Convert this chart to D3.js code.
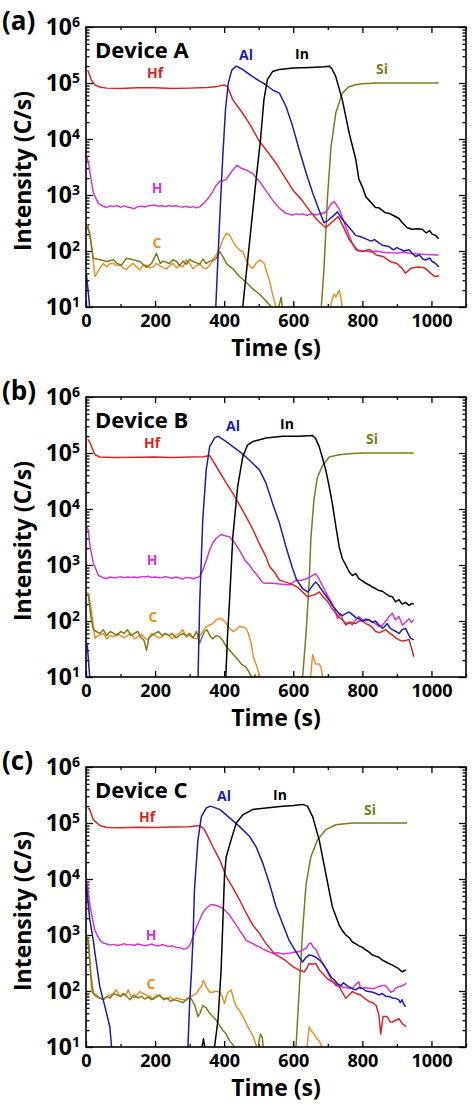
<!DOCTYPE html>
<meta charset="utf-8">

<!-- Load d3.js -->
<script src="https://d3js.org/d3.v7.min.js"></script>

<style>
  body { margin: 0; background: #fff; }
  text { font-family: "Open Sans", "DejaVu Sans", sans-serif; font-weight: bold; }
</style>

<div id="chart"></div>

<script>
  // ---------------- data: [time (s), intensity (C/s)] ----------------
  // values below 10 just run off the bottom of the log axis (clipped)

  // Device A
  const hfA = [[5,1.7e5],[15,1.15e5],[25,9.3e4],[40,8.5e4],[60,8.1e4],[100,8e4],[150,8.2e4],[200,8.2e4],[250,8e4],[300,8.1e4],[350,8.3e4],[380,8.7e4],[400,9.2e4],[410,8.6e4],[425,5e4],[450,3.1e4],[475,1.8e4],[500,9.5e3],[525,6e3],[550,3.7e3],[575,2.1e3],[600,1.2e3],[625,810],[650,500],[670,355],[694,260],[710,320],[730,410],[745,270],[762,160],[785,105],[800,98],[820,107],[840,85],[860,80],[880,65],[900,60],[915,49],[925,40],[940,49],[960,52],[980,50],[1000,39],[1010,35],[1022,36]];
  const alA = [[1,40],[6,20],[12,8],[20,1],[370,1],[375,8],[380,40],[388,500],[396,5000],[404,3.5e4],[412,1e5],[422,1.7e5],[435,2e5],[450,1.8e5],[475,1.4e5],[500,1.1e5],[521,9.3e4],[540,7.5e4],[560,6.6e4],[579,3.8e4],[598,1.7e4],[617,6.5e3],[637,2.5e3],[656,1.1e3],[675,530],[689,320],[700,350],[715,420],[728,500],[740,380],[752,310],[765,250],[781,190],[795,180],[810,165],[825,150],[835,160],[848,140],[860,125],[877,120],[890,105],[900,115],[906,110],[920,100],[935,105],[945,90],[954,80],[965,85],[975,72],[983,69],[995,75],[1002,65],[1012,60],[1021,52]];
  const inA = [[440,1],[452,8],[470,90],[490,1400],[505,9500],[515,5e4],[525,1.15e5],[540,1.6e5],[560,1.75e5],[600,1.85e5],[650,1.9e5],[690,1.95e5],[704,2e5],[712,1.8e5],[723,1.3e5],[742,5e4],[762,1.26e4],[781,4.3e3],[790,1.9e3],[800,1.4e3],[810,930],[819,810],[838,600],[848,590],[867,480],[877,470],[890,430],[906,380],[914,330],[930,260],[944,245],[960,250],[973,245],[985,210],[995,230],[1002,200],[1012,190],[1021,165]];
  const siA = [[3,280],[11,200],[21,74],[40,70],[60,65],[79,70],[90,60],[103,56],[117,74],[137,70],[156,65],[175,51],[190,60],[204,91],[215,60],[223,66],[242,60],[252,70],[262,65],[271,55],[281,66],[290,58],[300,70],[310,65],[319,62],[330,58],[338,72],[348,60],[358,66],[367,68],[377,74],[387,98],[396,80],[406,60],[425,48],[444,35],[463,28],[483,21],[502,17],[520,13],[531,11],[550,8],[558,10],[565,15],[572,6],[580,1],[670,1],[680,8],[689,50],[699,900],[709,7e3],[723,2.9e4],[742,6.6e4],[760,8.5e4],[781,9.3e4],[800,9.7e4],[840,1e5],[900,1e5],[960,1e5],[1021,1e5]];
  const hA = [[2,5000],[8,3500],[12,2400],[21,1100],[36,700],[50,630],[60,600],[70,640],[80,620],[90,650],[100,600],[110,640],[120,610],[130,590],[140,570],[150,620],[160,630],[170,610],[180,640],[190,650],[200,660],[210,630],[220,640],[230,620],[240,650],[250,630],[260,640],[270,620],[280,610],[290,630],[300,600],[310,620],[320,590],[330,620],[340,700],[348,800],[358,950],[367,1150],[377,1500],[387,1750],[396,1800],[406,1900],[415,2300],[425,2800],[437,3400],[450,3000],[463,2800],[483,2400],[502,1750],[521,1200],[540,810],[560,580],[579,470],[598,440],[610,460],[617,450],[627,460],[640,430],[646,450],[655,460],[665,440],[680,470],[689,470],[699,540],[710,700],[719,760],[726,650],[733,560],[742,400],[752,270],[762,190],[771,135],[781,105],[790,100],[810,100],[825,96],[839,100],[860,95],[880,93],[900,92],[920,95],[940,90],[954,89],[980,87],[1000,86],[1021,85]];
  const cA = [[2,300],[7,270],[16,120],[26,35],[40,49],[50,60],[60,52],[70,60],[79,60],[88,55],[98,56],[108,50],[117,46],[127,55],[137,60],[146,52],[156,46],[165,55],[175,56],[185,50],[194,52],[204,60],[213,55],[223,50],[233,48],[243,55],[252,60],[262,50],[271,55],[281,52],[290,70],[300,60],[310,48],[320,55],[330,58],[340,50],[348,48],[358,55],[367,70],[377,85],[387,110],[396,160],[406,205],[415,195],[425,150],[435,120],[444,105],[454,98],[463,70],[473,55],[483,49],[492,60],[502,69],[510,65],[516,60],[524,40],[531,30],[540,17],[550,10],[560,4],[700,4],[710,12],[718,17],[723,15],[733,20],[740,12],[748,6],[760,1]];

  // Device B
  const hfB = [[5,1.75e5],[10,1.6e5],[26,9.3e4],[40,8.5e4],[80,8.3e4],[150,8.4e4],[200,8.5e4],[250,8.3e4],[300,8.5e4],[340,8.6e4],[358,9e4],[377,5.8e4],[406,2.9e4],[425,1.9e4],[444,1.2e4],[463,7.4e3],[483,4.3e3],[502,2.4e3],[521,1.4e3],[531,950],[545,750],[560,540],[575,500],[589,470],[600,440],[615,390],[627,330],[642,270],[656,290],[665,300],[675,330],[689,260],[700,220],[713,165],[733,117],[745,100],[752,85],[765,95],[781,90],[790,100],[800,100],[810,90],[819,85],[830,75],[838,65],[850,62],[868,70],[877,62],[887,56],[897,50],[906,46],[915,44],[925,45],[935,47],[944,30],[949,23]];
  const alB = [[1,40],[4,35],[12,8],[20,1],[320,1],[324,8],[329,200],[338,6500],[348,5e4],[358,1.3e5],[372,1.85e5],[382,2e5],[406,1.6e5],[425,1.3e5],[444,1.07e5],[463,8.5e4],[483,6.5e4],[502,5e4],[521,2.9e4],[540,1.26e4],[560,5.6e3],[579,2.1e3],[597,900],[610,540],[627,380],[642,330],[655,420],[665,500],[675,420],[685,340],[695,280],[704,235],[713,190],[723,160],[733,135],[742,125],[752,135],[762,145],[771,130],[781,115],[790,110],[800,100],[810,108],[819,105],[828,95],[838,100],[848,85],[858,74],[865,80],[872,90],[880,75],[887,70],[897,65],[906,60],[915,70],[925,74],[932,60],[940,49],[949,46]];
  const inB = [[395,1],[404,8],[410,60],[415,200],[425,3200],[439,2.5e4],[454,8.7e4],[468,1.4e5],[483,1.6e5],[521,1.85e5],[569,2e5],[617,2e5],[656,2.05e5],[665,1.8e5],[675,1.3e5],[685,8e4],[694,5e4],[704,2.5e4],[713,1.26e4],[723,5e3],[733,2.1e3],[742,1.3e3],[752,1e3],[762,750],[771,650],[781,700],[790,570],[800,520],[810,470],[820,440],[830,400],[838,380],[848,350],[858,340],[867,310],[877,280],[887,270],[896,220],[906,240],[915,200],[925,215],[935,190],[942,205],[949,200]];
  const siB = [[3,300],[7,290],[14,120],[21,70],[30,65],[40,60],[50,70],[60,55],[70,65],[80,60],[90,55],[100,65],[110,60],[120,70],[130,55],[140,60],[150,65],[160,50],[168,45],[175,30],[182,50],[190,55],[200,60],[210,65],[220,55],[230,60],[240,55],[250,60],[260,50],[270,55],[280,60],[290,55],[300,60],[310,50],[320,65],[329,40],[338,55],[343,65],[350,70],[358,55],[367,48],[377,55],[387,52],[396,45],[406,35],[420,28],[435,22],[450,17],[463,15],[473,12],[483,9],[490,11],[495,8],[502,1],[615,1],[627,10],[637,60],[646,500],[651,3000],[660,1.5e4],[670,3.7e4],[685,6e4],[704,8.5e4],[733,9.3e4],[770,9.8e4],[810,1e5],[880,1e5],[949,1e5]];
  const hB = [[2,5000],[6,4300],[12,2100],[21,1100],[36,650],[48,600],[60,575],[70,610],[80,590],[90,600],[100,620],[110,590],[120,610],[130,600],[140,610],[150,590],[160,620],[170,610],[180,630],[190,600],[200,610],[210,590],[220,600],[230,620],[240,600],[250,580],[260,610],[270,590],[280,560],[290,600],[300,590],[310,570],[320,600],[329,620],[338,810],[348,1200],[358,1850],[367,2500],[377,3000],[391,3500],[405,3300],[415,3200],[430,2500],[444,1850],[455,1400],[463,1150],[473,1000],[483,810],[492,700],[502,580],[512,480],[521,470],[531,470],[540,470],[560,460],[575,450],[589,440],[608,540],[620,530],[637,560],[650,620],[665,700],[675,560],[685,420],[694,330],[704,250],[713,205],[720,160],[728,110],[737,135],[745,100],[752,91],[762,95],[771,85],[781,105],[790,120],[800,105],[810,100],[819,105],[830,95],[838,90],[848,80],[858,85],[868,100],[877,120],[887,138],[895,105],[906,120],[916,84],[925,95],[935,110],[942,95],[949,105]];
  const cB = [[2,320],[7,310],[16,150],[26,49],[35,55],[40,56],[50,60],[60,48],[70,55],[80,52],[90,60],[100,55],[110,50],[120,55],[130,60],[140,48],[150,52],[160,58],[170,50],[180,46],[190,60],[200,55],[210,50],[220,52],[230,60],[240,55],[250,48],[260,56],[270,60],[280,70],[290,52],[300,55],[310,50],[320,48],[330,55],[343,74],[358,85],[367,90],[377,105],[387,112],[396,105],[406,90],[415,75],[425,65],[435,70],[444,80],[454,78],[463,74],[470,60],[478,40],[485,22],[492,17],[502,11],[510,4],[640,4],[650,10],[656,25],[661,20],[665,17],[675,17],[680,15],[685,10],[690,4]];

  // Device C
  const hfC = [[5,1.8e5],[10,1.8e5],[21,1.15e5],[40,9e4],[60,8.3e4],[100,8.2e4],[150,8.4e4],[200,8.3e4],[250,8.5e4],[300,8.6e4],[329,9e4],[340,8e4],[348,6.6e4],[367,3.8e4],[387,2.2e4],[406,1.1e4],[425,7e3],[444,4.3e3],[463,2.5e3],[483,1.5e3],[502,1.07e3],[521,700],[531,600],[545,460],[560,410],[575,360],[588,310],[600,270],[617,235],[632,220],[640,260],[646,310],[655,300],[665,310],[675,240],[685,205],[697,170],[709,150],[720,140],[733,120],[742,95],[752,74],[762,85],[771,98],[782,90],[795,85],[805,75],[819,65],[830,62],[840,55],[848,37],[853,17],[860,35],[872,35],[880,28],[887,28],[897,30],[906,32],[916,26],[927,23]];
  const alC = [[1,8000],[4,5000],[11,1900],[21,800],[26,470],[40,120],[55,52],[69,23],[74,10],[80,1],[290,1],[295,10],[300,60],[305,200],[310,930],[314,6500],[324,5e4],[334,1.3e5],[348,1.85e5],[360,2e5],[387,1.75e5],[415,1.25e5],[444,8.7e4],[473,5.8e4],[492,3.8e4],[512,1.9e4],[531,8.3e3],[550,3.2e3],[569,1.6e3],[588,800],[608,500],[620,380],[627,330],[637,400],[646,440],[655,430],[665,400],[675,360],[685,310],[697,240],[709,180],[720,155],[728,135],[738,125],[745,140],[752,130],[760,120],[771,110],[781,105],[790,115],[800,112],[810,100],[819,98],[830,95],[840,90],[848,85],[858,90],[868,80],[877,80],[887,75],[896,74],[905,70],[910,62],[915,70],[920,58],[925,52]];
  const inC = [[330,1],[336,10],[340,14],[345,9],[350,1],[368,1],[372,10],[382,30],[391,230],[396,1600],[401,1.2e4],[406,2.5e4],[420,5e4],[435,1e5],[454,1.4e5],[483,1.75e5],[521,1.85e5],[569,2e5],[600,2.05e5],[627,2.15e5],[641,2e5],[656,1.3e5],[675,5e4],[694,1.26e4],[713,3.2e3],[733,1.5e3],[742,1.2e3],[752,1e3],[762,900],[771,750],[780,700],[790,640],[800,600],[810,540],[819,500],[829,440],[838,420],[848,400],[858,355],[868,330],[877,310],[887,290],[896,270],[905,250],[915,220],[920,230],[927,235]];
  const siC = [[2,1000],[7,700],[14,200],[21,90],[30,80],[40,74],[50,70],[60,80],[70,75],[80,90],[90,85],[100,80],[108,90],[118,80],[128,70],[138,85],[150,75],[160,80],[170,72],[180,78],[190,70],[200,75],[213,85],[225,70],[235,75],[245,65],[252,70],[262,68],[272,65],[281,62],[290,70],[295,75],[305,72],[315,55],[324,35],[330,40],[338,55],[348,50],[358,40],[367,35],[377,30],[387,24],[396,20],[406,17],[415,13],[425,11],[435,9],[445,1],[495,1],[500,12],[505,17],[510,15],[515,8],[520,1],[600,1],[608,10],[617,100],[627,1200],[637,8e3],[651,2.5e4],[670,5e4],[694,7.6e4],[723,9.3e4],[771,1e5],[850,1e5],[930,1e5]];
  const hC = [[2,9000],[4,8000],[8,5000],[12,3200],[20,1800],[26,1200],[40,810],[50,720],[60,690],[70,660],[80,680],[90,650],[100,670],[110,700],[120,660],[130,680],[140,650],[150,690],[160,670],[170,640],[180,660],[190,690],[200,650],[210,640],[220,670],[230,650],[240,620],[250,640],[260,600],[271,600],[280,560],[290,570],[300,650],[310,930],[320,1400],[329,1850],[338,2500],[348,3000],[362,3500],[375,3400],[387,3200],[396,3000],[406,2600],[415,2300],[425,1850],[435,1500],[444,1230],[454,1000],[463,810],[473,750],[483,700],[492,650],[502,620],[512,560],[521,530],[531,500],[540,470],[555,480],[569,460],[588,470],[600,490],[617,500],[627,540],[637,580],[646,700],[651,720],[658,600],[665,560],[675,410],[685,310],[694,250],[704,190],[713,150],[723,125],[733,120],[742,118],[752,115],[762,112],[771,112],[780,130],[790,145],[795,110],[805,115],[819,112],[830,110],[840,115],[848,120],[858,125],[867,125],[874,110],[882,95],[890,100],[896,112],[905,120],[910,120],[918,125],[927,138]];
  const cC = [[2,800],[7,700],[12,300],[16,98],[24,90],[31,85],[40,75],[50,70],[60,80],[70,85],[79,90],[88,105],[98,80],[108,85],[118,90],[122,105],[130,80],[140,75],[148,85],[156,98],[165,90],[175,85],[185,80],[194,72],[204,85],[213,80],[223,75],[233,72],[243,78],[252,70],[262,75],[271,72],[281,70],[290,68],[298,75],[305,80],[312,85],[319,90],[328,110],[334,120],[340,155],[348,120],[358,95],[367,95],[377,100],[387,95],[394,80],[401,60],[406,80],[411,95],[420,104],[428,70],[435,53],[444,45],[454,35],[463,27],[468,23],[483,16],[490,12],[497,9],[505,1],[630,1],[640,10],[646,23],[651,20],[660,17],[668,14],[675,13],[683,10],[690,1]];

  const panelNames = ["(a)", "(b)", "(c)"];
  const deviceNames = ["Device A", "Device B", "Device C"];
  const elements = ["C", "Si", "H", "Hf", "Al", "In"];
  const seriesByPanel = [
    {Hf: hfA, Al: alA, In: inA, Si: siA, H: hA, C: cA},
    {Hf: hfB, Al: alB, In: inB, Si: siB, H: hB, C: cB},
    {Hf: hfC, Al: alC, In: inC, Si: siC, H: hC, C: cC}
  ];
  const xTicks = [0, 200, 400, 600, 800, 1000];
  const xMinorTicks = [100, 300, 500, 700, 900, 1100];
  const yTicks = [1e1, 1e2, 1e3, 1e4, 1e5, 1e6];

  // ---------------- layout / style ----------------
  const colors = {Hf: "#d42626", Al: "#1c1cb0", In: "#000000", Si: "#7c7c1c", H: "#d236d2", C: "#ea8f2a"};
  // element label spots inside each panel [x, baseline y] (px, relative to panel)
  const labelSpots = [
    {Hf: [155, 78], Al: [246, 60], In: [302, 59], Si: [382, 74], H: [157, 193], C: [157, 248]},
    {Hf: [152, 78], Al: [233, 61], In: [287, 59], Si: [372, 74], H: [152, 195], C: [153, 252]},
    {Hf: [147, 82], Al: [224, 61], In: [280, 60], Si: [370, 75], H: [151, 200], C: [151, 249]}
  ];

  var margin = {top: 27, left: 86},
      width = 380,
      height = 280,
      panelStep = 370;

  var svg = d3.select("#chart")
    .append("svg")
      .attr("width", 474)
      .attr("height", 1114);

  var x = d3.scaleLinear().domain([0, 1100]).range([0, width]);
  var y = d3.scaleLog().domain([10, 1e6]).range([height, 0]);

  // log minor ticks 2..9 in each decade
  var yMinor = [];
  for (var k = 1; k < 6; k++) {
    for (var m = 2; m < 10; m++) yMinor.push(m * Math.pow(10, k));
  }

  var line = d3.line()
    .x(function(d) { return x(d[0]); })
    .y(function(d) { return y(d[1]); });

  seriesByPanel.forEach(function(series, i) {
    var top = i * panelStep;

    // panel letter
    svg.append("text")
      .attr("x", 2).attr("y", top + 30)
      .attr("font-size", 26)
      .text(panelNames[i]);

    var g = svg.append("g")
      .attr("transform", "translate(" + margin.left + "," + (top + margin.top) + ")");

    g.append("clipPath").attr("id", "clip" + i)
      .append("rect").attr("width", width).attr("height", height);

    // axes with inward ticks on all four sides
    function axisPart(axis, tr) {
      var a = g.append("g").attr("transform", tr || null).call(axis);
      a.select(".domain").remove();
      a.selectAll("line").attr("stroke", "#000").attr("stroke-width", 1.3);
      return a;
    }
    var xb = axisPart(d3.axisBottom(x).tickValues(xTicks).tickFormat(d3.format("d")).tickSizeInner(-6).tickSizeOuter(0).tickPadding(7), "translate(0," + height + ")");
    xb.selectAll("text").attr("font-size", 18).attr("font-family", null).attr("fill", "#000");
    axisPart(d3.axisBottom(x).tickValues(xMinorTicks).tickSizeInner(-3).tickSizeOuter(0).tickFormat(""), "translate(0," + height + ")");
    axisPart(d3.axisTop(x).tickValues(xTicks).tickSizeInner(-6).tickSizeOuter(0).tickFormat(""));
    axisPart(d3.axisTop(x).tickValues(xMinorTicks).tickSizeInner(-3).tickSizeOuter(0).tickFormat(""));

    var yl = axisPart(d3.axisLeft(y).tickValues(yTicks).tickSizeInner(-7).tickSizeOuter(0).tickPadding(6).tickFormat(function() { return "10"; }));
    yl.selectAll("text")
      .attr("font-size", 23).attr("font-family", null).attr("fill", "#000")
      .append("tspan")
        .attr("dy", "-0.55em")
        .attr("font-size", 14)
        .text(function(d) { return Math.round(Math.log10(d)); });
    axisPart(d3.axisLeft(y).tickValues(yMinor).tickSizeInner(-3.5).tickSizeOuter(0).tickFormat(""));
    axisPart(d3.axisRight(y).tickValues(yTicks).tickSizeInner(-7).tickSizeOuter(0).tickFormat(""), "translate(" + width + ",0)");
    axisPart(d3.axisRight(y).tickValues(yMinor).tickSizeInner(-3.5).tickSizeOuter(0).tickFormat(""), "translate(" + width + ",0)");

    // profiles
    var plot = g.append("g").attr("clip-path", "url(#clip" + i + ")");
    elements.forEach(function(el) {
      plot.append("path")
        .datum(series[el])
        .attr("fill", "none")
        .attr("stroke", colors[el])
        .attr("stroke-width", 1.5)
        .attr("stroke-linejoin", "round")
        .attr("d", line);
    });

    // frame
    g.append("rect")
      .attr("width", width).attr("height", height)
      .attr("fill", "none").attr("stroke", "#000").attr("stroke-width", 1.6);

    // element labels
    elements.forEach(function(el) {
      var p = labelSpots[i][el];
      svg.append("text")
        .attr("x", p[0]).attr("y", top + p[1])
        .attr("text-anchor", "middle")
        .attr("font-size", 14)
        .attr("fill", colors[el])
        .text(el);
    });

    svg.append("text")
      .attr("x", 95).attr("y", top + 58)
      .attr("font-size", 22)
      .text(deviceNames[i]);

    // axis titles
    svg.append("text")
      .attr("x", margin.left + width / 2).attr("y", top + 356)
      .attr("text-anchor", "middle")
      .attr("font-size", 23)
      .text("Time (s)");

    svg.append("text")
      .attr("transform", "translate(31," + (top + margin.top + height / 2 + 4) + ") rotate(-90)")
      .attr("text-anchor", "middle")
      .attr("font-size", 23)
      .text("Intensity (C/s)");
  });

</script>
